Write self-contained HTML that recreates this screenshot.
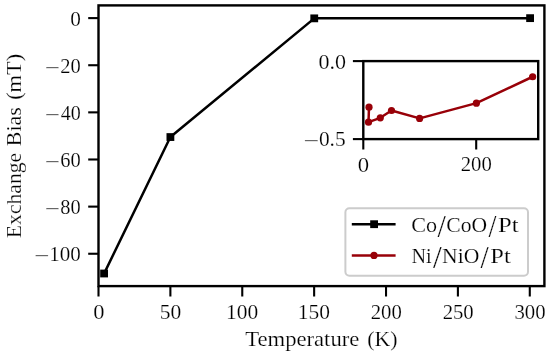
<!DOCTYPE html>
<html><head><meta charset="utf-8"><style>
html,body{margin:0;padding:0;background:#fff;width:550px;height:353px;overflow:hidden}
svg{display:block}
.t{font-family:"Liberation Serif", "DejaVu Serif", serif;font-size:21.5px;fill:#000;stroke:#fff;stroke-width:0.2px}
.l{font-family:"Liberation Serif", "DejaVu Serif", serif;font-size:22.0px;fill:#000;stroke:#fff;stroke-width:0.2px}
</style></head><body>
<svg width="550" height="353" viewBox="0 0 550 353">
<rect width="550" height="353" fill="#fff"/>
<polyline fill="none" stroke="#000" stroke-width="2.5" stroke-linejoin="round" stroke-linecap="square" points="104.1,273.5 170.4,137.05 314.25,18.35 530.1,18.15"/>
<rect x="100.20" y="269.60" width="7.8" height="7.8" fill="#000"/>
<rect x="166.50" y="133.15" width="7.8" height="7.8" fill="#000"/>
<rect x="310.35" y="14.45" width="7.8" height="7.8" fill="#000"/>
<rect x="526.20" y="14.25" width="7.8" height="7.8" fill="#000"/>
<line x1="88.2" y1="18.10" x2="98.5" y2="18.10" stroke="#000" stroke-width="2.1"/>
<text class="t"><tspan x="70.21" y="25.80" textLength="10.63" lengthAdjust="spacingAndGlyphs">0</tspan></text>
<line x1="88.2" y1="65.23" x2="98.5" y2="65.23" stroke="#000" stroke-width="2.1"/>
<text class="t"><tspan x="44.83" y="74.78" textLength="15.16" lengthAdjust="spacingAndGlyphs">−</tspan><tspan x="60.24" y="72.93" textLength="20.52" lengthAdjust="spacingAndGlyphs">20</tspan></text>
<line x1="88.2" y1="112.36" x2="98.5" y2="112.36" stroke="#000" stroke-width="2.1"/>
<text class="t"><tspan x="44.83" y="121.91" textLength="15.16" lengthAdjust="spacingAndGlyphs">−</tspan><tspan x="60.73" y="120.06" textLength="20.02" lengthAdjust="spacingAndGlyphs">40</tspan></text>
<line x1="88.2" y1="159.49" x2="98.5" y2="159.49" stroke="#000" stroke-width="2.1"/>
<text class="t"><tspan x="44.83" y="169.04" textLength="15.16" lengthAdjust="spacingAndGlyphs">−</tspan><tspan x="60.24" y="167.19" textLength="20.52" lengthAdjust="spacingAndGlyphs">60</tspan></text>
<line x1="88.2" y1="206.62" x2="98.5" y2="206.62" stroke="#000" stroke-width="2.1"/>
<text class="t"><tspan x="44.83" y="216.17" textLength="15.16" lengthAdjust="spacingAndGlyphs">−</tspan><tspan x="60.34" y="214.32" textLength="20.42" lengthAdjust="spacingAndGlyphs">80</tspan></text>
<line x1="88.2" y1="253.75" x2="98.5" y2="253.75" stroke="#000" stroke-width="2.1"/>
<text class="t"><tspan x="34.33" y="263.30" textLength="15.16" lengthAdjust="spacingAndGlyphs">−</tspan><tspan x="49.24" y="261.45" textLength="31.59" lengthAdjust="spacingAndGlyphs">100</tspan></text>
<line x1="98.50" y1="286.1" x2="98.50" y2="296.5" stroke="#000" stroke-width="2.1"/>
<text class="t"><tspan x="93.21" y="318.70" textLength="11.22" lengthAdjust="spacingAndGlyphs">0</tspan></text>
<line x1="170.38" y1="286.1" x2="170.38" y2="296.5" stroke="#000" stroke-width="2.1"/>
<text class="t"><tspan x="159.68" y="318.70" textLength="21.50" lengthAdjust="spacingAndGlyphs">50</tspan></text>
<line x1="242.26" y1="286.1" x2="242.26" y2="296.5" stroke="#000" stroke-width="2.1"/>
<text class="t"><tspan x="225.97" y="318.70" textLength="32.14" lengthAdjust="spacingAndGlyphs">100</tspan></text>
<line x1="314.14" y1="286.1" x2="314.14" y2="296.5" stroke="#000" stroke-width="2.1"/>
<text class="t"><tspan x="297.85" y="318.70" textLength="32.14" lengthAdjust="spacingAndGlyphs">150</tspan></text>
<line x1="386.02" y1="286.1" x2="386.02" y2="296.5" stroke="#000" stroke-width="2.1"/>
<text class="t"><tspan x="370.75" y="318.70" textLength="31.09" lengthAdjust="spacingAndGlyphs">200</tspan></text>
<line x1="457.90" y1="286.1" x2="457.90" y2="296.5" stroke="#000" stroke-width="2.1"/>
<text class="t"><tspan x="442.63" y="318.70" textLength="31.09" lengthAdjust="spacingAndGlyphs">250</tspan></text>
<line x1="529.78" y1="286.1" x2="529.78" y2="296.5" stroke="#000" stroke-width="2.1"/>
<text class="t"><tspan x="514.41" y="318.70" textLength="31.19" lengthAdjust="spacingAndGlyphs">300</tspan></text>
<rect x="98.5" y="5.4" width="445.9" height="280.7" fill="none" stroke="#000" stroke-width="2.4"/>
<text class="l"><tspan x="245.19" y="345.80" textLength="114.17" lengthAdjust="spacingAndGlyphs">Temperature</tspan> <tspan x="367.21" y="345.80" textLength="30.33" lengthAdjust="spacingAndGlyphs">(K)</tspan></text>
<text class="l" transform="translate(21.00,0) rotate(-90)"><tspan x="-238.19" y="0" textLength="85.41" lengthAdjust="spacingAndGlyphs">Exchange</tspan> <tspan x="-146.20" y="0" textLength="39.01" lengthAdjust="spacingAndGlyphs">Bias</tspan> <tspan x="-99.87" y="0" textLength="46.09" lengthAdjust="spacingAndGlyphs">(mT)</tspan></text>
<rect x="345.4" y="208.2" width="182.6" height="67.5" rx="4" ry="4" fill="#fff" stroke="#cccccc" stroke-width="2"/>
<line x1="351.8" y1="224.2" x2="395.6" y2="224.2" stroke="#000" stroke-width="2.5"/>
<rect x="370.20" y="220.30" width="7.8" height="7.8" fill="#000"/>
<line x1="351.8" y1="255.4" x2="395.6" y2="255.4" stroke="#980008" stroke-width="2.5"/>
<circle cx="374" cy="255.4" r="3.6" fill="#980008"/>
<text class="l"><tspan x="411.30" y="232.00" textLength="25.78" lengthAdjust="spacingAndGlyphs">Co</tspan><tspan x="437.60" y="237.31" style="font-size:31.73px" textLength="8.32" lengthAdjust="spacingAndGlyphs">/</tspan><tspan x="446.22" y="232.00" textLength="40.83" lengthAdjust="spacingAndGlyphs">CoO</tspan><tspan x="488.60" y="237.31" style="font-size:31.73px" textLength="7.92" lengthAdjust="spacingAndGlyphs">/</tspan><tspan x="498.03" y="232.00" textLength="20.54" lengthAdjust="spacingAndGlyphs">Pt</tspan></text>
<text class="l"><tspan x="411.45" y="262.90" textLength="20.22" lengthAdjust="spacingAndGlyphs">Ni</tspan><tspan x="432.90" y="268.21" style="font-size:31.73px" textLength="8.72" lengthAdjust="spacingAndGlyphs">/</tspan><tspan x="442.11" y="262.90" textLength="37.26" lengthAdjust="spacingAndGlyphs">NiO</tspan><tspan x="480.60" y="268.21" style="font-size:31.73px" textLength="8.22" lengthAdjust="spacingAndGlyphs">/</tspan><tspan x="490.33" y="262.90" textLength="20.43" lengthAdjust="spacingAndGlyphs">Pt</tspan></text>
<polyline fill="none" stroke="#980008" stroke-width="2.5" stroke-linejoin="round" points="369,107.2 368.5,122.2 380.3,117.8 391.5,110.5 419.6,118.4 476.4,103.15 532.65,76.75"/>
<circle cx="369" cy="107.2" r="3.6" fill="#980008"/>
<circle cx="368.5" cy="122.2" r="3.6" fill="#980008"/>
<circle cx="380.3" cy="117.8" r="3.6" fill="#980008"/>
<circle cx="391.5" cy="110.5" r="3.6" fill="#980008"/>
<circle cx="419.6" cy="118.4" r="3.6" fill="#980008"/>
<circle cx="476.4" cy="103.15" r="3.6" fill="#980008"/>
<circle cx="532.65" cy="76.75" r="3.6" fill="#980008"/>
<line x1="352.9" y1="61.1" x2="363.3" y2="61.1" stroke="#000" stroke-width="2.1"/>
<line x1="352.9" y1="139.1" x2="363.3" y2="139.1" stroke="#000" stroke-width="2.1"/>
<text class="t"><tspan x="318.48" y="68.70" textLength="27.51" lengthAdjust="spacingAndGlyphs">0.0</tspan></text>
<text class="t"><tspan x="303.57" y="148.25" textLength="15.76" lengthAdjust="spacingAndGlyphs">−</tspan><tspan x="318.90" y="146.40" textLength="26.77" lengthAdjust="spacingAndGlyphs">0.5</tspan></text>
<line x1="363.3" y1="139.1" x2="363.3" y2="149.5" stroke="#000" stroke-width="2.1"/>
<line x1="476.2" y1="139.1" x2="476.2" y2="149.5" stroke="#000" stroke-width="2.1"/>
<text class="t"><tspan x="357.76" y="171.60" textLength="11.34" lengthAdjust="spacingAndGlyphs">0</tspan></text>
<text class="t"><tspan x="460.73" y="171.40" textLength="31.09" lengthAdjust="spacingAndGlyphs">200</tspan></text>
<rect x="363.3" y="61.1" width="174.9" height="78" fill="none" stroke="#000" stroke-width="2.4"/>
</svg>
</body></html>
